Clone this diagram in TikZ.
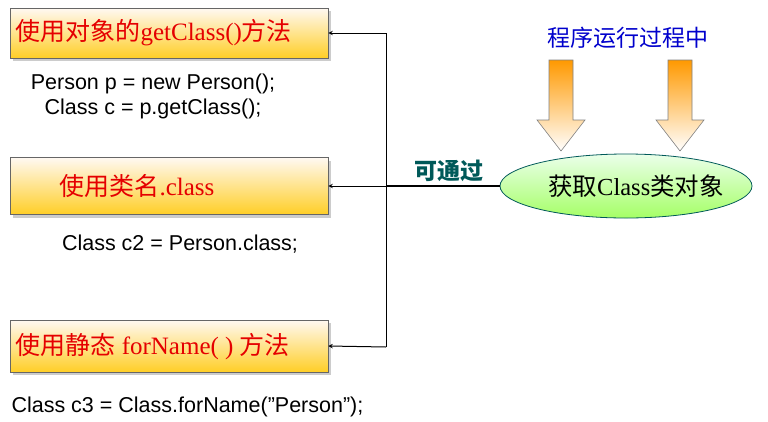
\documentclass[tikz,border=0pt]{standalone}
\usepackage{fontspec}
\setmainfont{Liberation Serif}
\setsansfont{Liberation Sans}
\newfontfamily\cjk{Noto Sans CJK SC}
\usetikzlibrary{shadows,shapes.geometric}
\tikzset{
 methodbox/.style={draw=black!60,line width=0.6pt,top color=orange!5,bottom color=orange!45!yellow!85,
   minimum width=318pt,minimum height=50pt,inner sep=0pt,drop shadow={shadow xshift=3pt,shadow yshift=-3pt,opacity=0.4}},
 redtxt/.style={text=red!90!black,font=\fontsize{25}{28}\selectfont},
 code/.style={font=\sffamily\fontsize{21.5}{24}\selectfont},
 conn/.style={line width=1pt,-stealth},
 barrow/.style={draw=black!50,line width=0.6pt,top color=orange!80!yellow,bottom color=white},
}
\begin{document}
\begin{tikzpicture}[x=1pt,y=-1pt]
\useasboundingbox (0,0) rectangle (768,421);
\node[methodbox] (b1) at (169,33) {};
\node[redtxt,anchor=west] (t1) at (12,33) {{\cjk 使用对象的}getClass(){\cjk 方法}};
\node[methodbox,minimum height=57pt] (b2) at (169,186) {};
\node[redtxt,anchor=west] (t2) at (56,186) {{\cjk 使用类名}.class};
\node[methodbox,minimum height=52pt] (b3) at (169,346) {};
\node[redtxt,anchor=west] (t3) at (12,347) {{\cjk 使用静态} forName( ) {\cjk 方法}};
\node[code] (c1) at (153,84) {Person p = new Person();};
\node[code] (c2) at (153,109) {Class c = p.getClass();};
\node[code] (c3) at (180,244) {Class c2 = Person.class;};
\node[code,anchor=west] (c4) at (8,407) {Class c3 = Class.forName(\char"22 Person\char"22);};
\node[ellipse,draw=teal!70!black,line width=0.8pt,top color=green!8,bottom color=green!45!lime!60,
  minimum width=252pt,minimum height=64pt,inner sep=0pt] (e) at (626,186) {};
\node[font=\fontsize{24.5}{28}\selectfont] (et) at (636,186) {{\cjk 获取}Class{\cjk 类对象}};
\node[text=blue!80!black,font=\cjk\fontsize{23}{26}\selectfont] (top) at (628,38) {程序运行过程中};
\node[text=teal!70!black,font=\cjk\bfseries\fontsize{23}{26}\selectfont] (kt) at (449,171) {可通过};
\coordinate (j1) at (386,33);
\coordinate (j2) at (386,186);
\coordinate (j3) at (386,347);
\draw[line width=1pt] (j1) -- (j3);
\draw[conn] (j1) -- (b1.east);
\draw[conn] (j2) -- (b2.east);
\draw[conn] (j3) -- (b3.east);
\draw[line width=1.4pt] (j2) -- (e.west);
\foreach \c in {561,680}{
 \path[barrow] (\c-12,60) -- (\c+12,60) -- (\c+12,120) -- (\c+24,120) -- (\c,151) -- (\c-24,120) -- (\c-12,120) -- cycle;
}
\end{tikzpicture}
\end{document}
